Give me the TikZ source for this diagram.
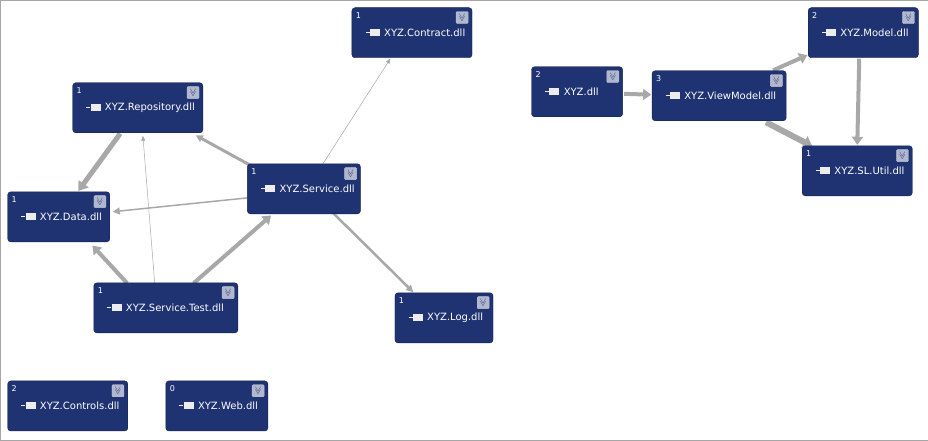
\documentclass[tikz,border=0pt]{standalone}
\usepackage{fontspec}
\setmainfont{DejaVu Sans}
\usetikzlibrary{arrows.meta,positioning,backgrounds}
\definecolor{navy}{HTML}{1F3271}
\definecolor{edgegray}{HTML}{A8A8A8}
\tikzset{
  dllbox/.style={draw=navy!70!black, fill=navy, rounded corners=3pt, minimum height=50pt, inner sep=0pt},
  dllname/.style={text=white, font=\fontsize{10}{11}\selectfont, inner sep=0pt},
  dllcount/.style={text=white, font=\fontsize{8}{9}\selectfont, inner sep=0pt, anchor=north west},
  dep/.style={draw=edgegray, -{Triangle[length=7pt,width=7pt]}, shorten >=1pt, shorten <=1pt}
}
% \dll{name}{x,y}{width}{count}{label}
\newcommand{\dll}[5]{%
  \node[dllbox, minimum width=#3pt] (#1) at (#2) {};
  \node[dllcount] at ([shift={(4pt,-5pt)}]#1.north west) {#4};
  \node[fill=navy!35!white, draw=white!70!navy, rounded corners=1pt, minimum size=12pt, inner sep=0pt,
        font=\fontsize{8}{8}\selectfont, text=navy, rotate=-90] at ([shift={(-10pt,-10pt)}]#1.north east) {$\gg$};
  \node[dllname, anchor=west] (#1-t) at ([shift={(-#3pt/2+32pt,0pt)}]#1) {#5};
  \node[fill=white!85!gray, minimum width=10pt, minimum height=7pt, inner sep=0pt, anchor=east] (#1-i) at ([xshift=-4pt]#1-t.west) {};
  \draw[white!85!gray, line width=1pt] (#1-i.west) -- ++(-4pt,0);
}
\begin{document}
\begin{tikzpicture}[x=1pt, y=-1pt]
  % left cluster
  \dll{contract}{412,33}{120}{1}{XYZ.Contract.dll}
  \dll{repo}{138,108}{130}{1}{XYZ.Repository.dll}
  \dll{service}{304,189}{113}{1}{XYZ.Service.dll}
  \dll{data}{59,217}{102}{1}{XYZ.Data.dll}
  \dll{test}{166,308}{144}{1}{XYZ.Service.Test.dll}
  \dll{log}{444,318}{98}{1}{XYZ.Log.dll}
  \dll{controls}{68,406}{120}{2}{XYZ.Controls.dll}
  \dll{web}{217,406}{102}{0}{XYZ.Web.dll}
  % right cluster
  \dll{xyz}{577,92}{91}{2}{XYZ.dll}
  \dll{viewmodel}{719,96}{134}{3}{XYZ.ViewModel.dll}
  \dll{model}{863,33}{110}{2}{XYZ.Model.dll}
  \dll{slutil}{857,171}{110}{1}{XYZ.SL.Util.dll}
  % dependencies
  \begin{scope}[on background layer]
  \draw[gray!70, fill=white] (0.5,0.5) rectangle (927.5,440.5);
  \draw[dep, line width=5pt, -{Triangle[length=9pt,width=12pt]}] (121,133) -- (78,192);
  \draw[dep, line width=3pt] (255,168) -- (195,135);
  \draw[dep, line width=1.5pt] (248,198) -- (112,212);
  \draw[dep, line width=0.5pt, -{Triangle[length=5pt,width=4pt]}] (323,164) -- (391,58);
  \draw[dep, line width=0.5pt, -{Triangle[length=5pt,width=4pt]}] (155,284) -- (143,135);
  \draw[dep, line width=4pt, -{Triangle[length=8pt,width=11pt]}] (128,284) -- (92,245);
  \draw[dep, line width=4pt, -{Triangle[length=8pt,width=11pt]}] (193,284) -- (272,215);
  \draw[dep, line width=2.5pt] (333,213) -- (414,293);
  \draw[dep, line width=4pt, -{Triangle[length=8pt,width=11pt]}] (623,94) -- (652,95);
  \draw[dep, line width=4pt, -{Triangle[length=8pt,width=11pt]}] (772,71) -- (808,55);
  \draw[dep, line width=6pt, -{Triangle[length=9pt,width=13pt]}] (765,122) -- (813,147);
  \draw[dep, line width=4pt, -{Triangle[length=8pt,width=11pt]}] (859,58) -- (857,146);
  \end{scope}
\end{tikzpicture}
\end{document}
